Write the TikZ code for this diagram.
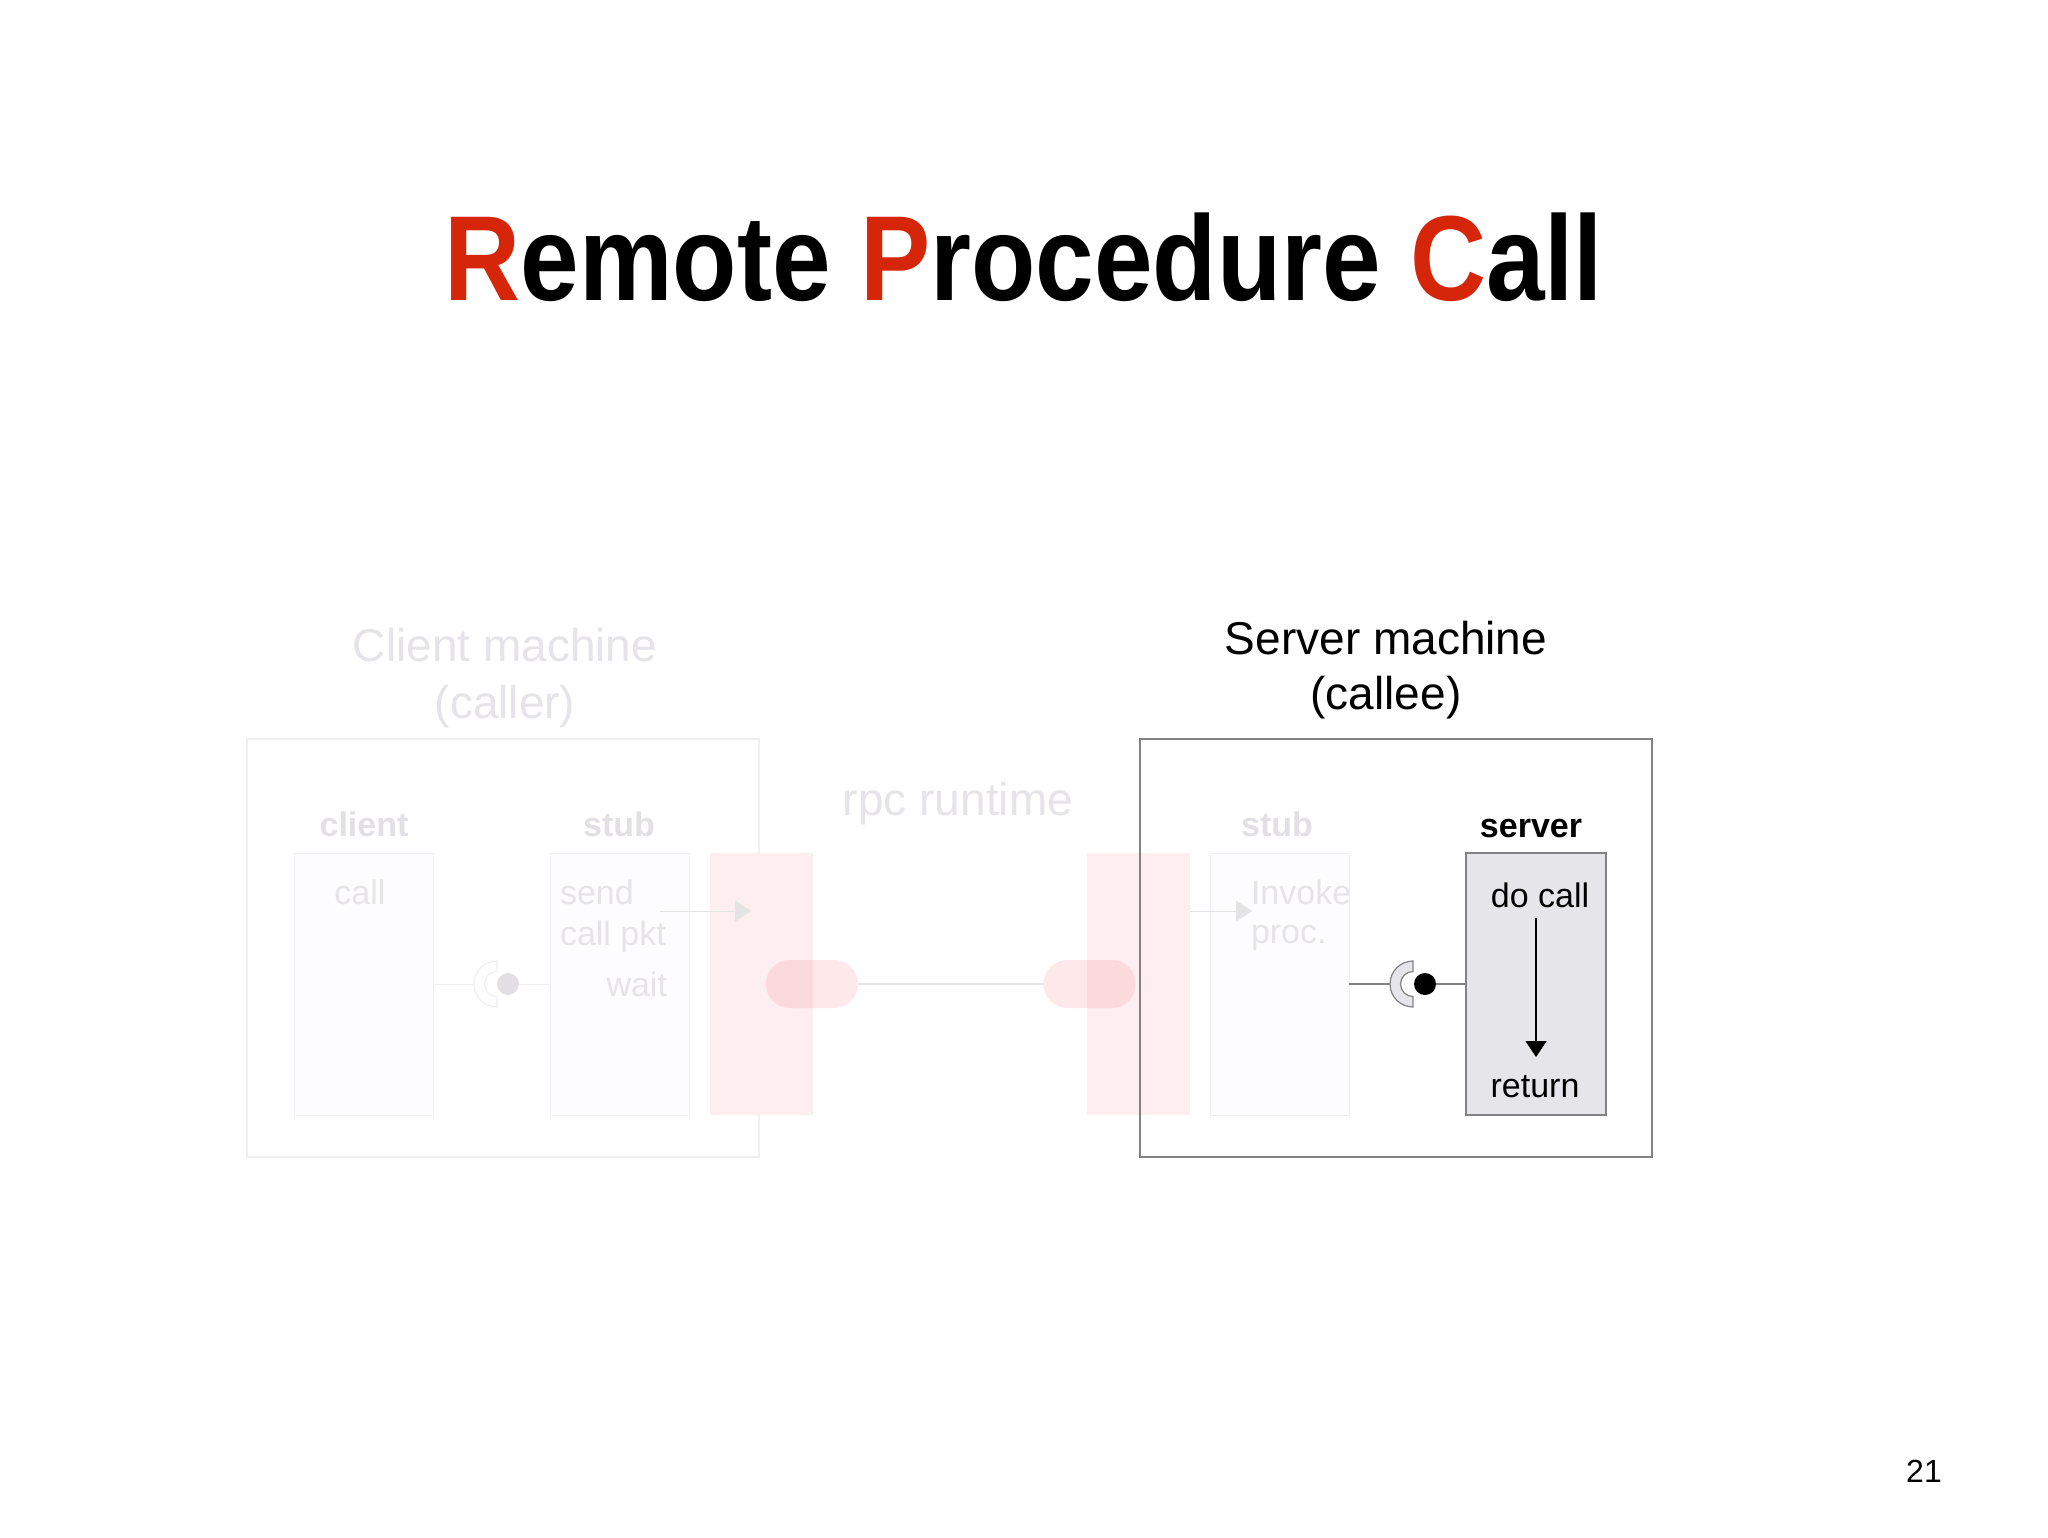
\documentclass[tikz,border=0pt]{standalone}
\usepackage{fontspec}
\setmainfont{Liberation Sans}
\newfontfamily\titlefont[FakeStretch=0.87]{Liberation Sans}
\usetikzlibrary{arrows.meta}
\definecolor{titlered}{RGB}{214,38,10}
\definecolor{fadetxt}{RGB}{230,228,233}
\definecolor{fadebold}{RGB}{226,224,229}
\definecolor{fadeline}{RGB}{241,239,243}
\definecolor{fadefill}{RGB}{253,252,254}
\definecolor{barpink}{RGB}{253,238,240}
\definecolor{pillpink}{RGB}{253,232,234}
\definecolor{pilldark}{RGB}{251,218,222}
\definecolor{boxgray}{RGB}{230,229,233}
\definecolor{edgegray}{RGB}{130,130,130}
\definecolor{fadearrow}{RGB}{228,228,228}
\definecolor{midline}{RGB}{228,228,232}
\begin{document}
\begin{tikzpicture}[x=0.5pt,y=-0.5pt,
  every node/.style={inner sep=0pt,outer sep=0pt},
  mbox/.style={anchor=north west,minimum width=256pt,minimum height=209pt},
  col/.style={anchor=north west,minimum width=69.5pt,minimum height=131pt},
  bar/.style={anchor=north west,minimum width=51.5pt,minimum height=131pt,fill=barpink},
  pill/.style={minimum width=46pt,minimum height=24pt,rounded corners=12pt,fill=pillpink},
  big/.style={anchor=base,font=\fontsize{23}{28}\selectfont},
  hdr/.style={anchor=base,font=\bfseries\fontsize{17}{20}\selectfont},
  item/.style={anchor=base,font=\fontsize{17}{20}\selectfont},
  dot/.style={circle,minimum size=11pt},
  fadetip/.style={-{Triangle[width=10.5pt,length=8pt]}}
]
\useasboundingbox (0,0) rectangle (2048,1537);
\fill[white] (0,0) rectangle (2048,1537);

% title
\node[anchor=base,font=\titlefont\bfseries\fontsize{60.5}{70}\selectfont] (title) at (1024,300)
  {\textcolor{titlered}{R}emote \textcolor{titlered}{P}rocedure \textcolor{titlered}{C}all};

% machine boxes
\node[mbox,draw=fadeline,line width=0.6pt] (cm) at (247,739) {};

% red bars
\node[bar] (rbar1) at (710,853) {};
\node[bar] (rbar2) at (1087,853) {};

% pills
\node[pill] (pl) at (812,984) {};
\node[pill] (pr) at (1089.5,984) {};
\begin{scope}
  \clip (rbar1.north west) rectangle (rbar1.south east);
  \fill[pilldark,rounded corners=12pt] (pl.north west) rectangle (pl.south east);
\end{scope}
\begin{scope}
  \clip (rbar2.north west) rectangle (rbar2.south east);
  \fill[pilldark,rounded corners=12pt] (pr.north west) rectangle (pr.south east);
\end{scope}
\draw[midline,line width=1.1pt] (pl.east) -- (pr.west);

% columns
\node[col,draw=fadeline,fill=fadefill,line width=0.5pt] (cbox) at (294,853) {};
\node[col,draw=fadeline,fill=fadefill,line width=0.5pt] (cstub) at (550,853) {};
\node[col,draw=fadeline,fill=fadefill,line width=0.5pt] (sstub) at (1210,853) {};
\node[anchor=north west,minimum width=70pt,minimum height=131pt,draw=edgegray,fill=boxgray,line width=0.6pt] (sbox) at (1466,853) {};

\node[mbox,draw=edgegray,line width=0.6pt] (sm) at (1140,739) {};

% machine labels
\node[big,text=fadetxt] (cml1) at (505,661) {Client machine};
\node[big,text=fadetxt] (cml2) at (505,718) {(caller)};
\node[big] (sml1) at (1386,654) {Server machine};
\node[big] (sml2) at (1386,709) {(callee)};
\node[big,text=fadetxt] (rpc) at (958,815) {rpc runtime};

% column headers
\node[hdr,text=fadebold] (hclient) at (364,836) {client};
\node[hdr,text=fadebold] (hcstub) at (619,836) {stub};
\node[hdr,text=fadebold] (hsstub) at (1277,836) {stub};
\node[hdr] (hserver) at (1531,837) {server};

% items
\node[item,text=fadetxt] (call) at (360,904) {call};
\node[item,text=fadetxt,anchor=base west] (send) at (560,904) {send};
\node[item,text=fadetxt,anchor=base west] (pkt) at (560,945) {call pkt};
\node[item,text=fadetxt,anchor=base east] (wait) at (667,996) {wait};
\node[item,text=fadetxt,anchor=base west] (inv) at (1251,904) {Invoke};
\node[item,text=fadetxt,anchor=base west] (proc) at (1251,943) {proc.};
\node[item] (docall) at (1540,907) {do call};
\node[item] (ret) at (1535,1097) {return};

% faded arrows
\coordinate (ca1) at (660,911);
\coordinate (ca2) at (751,911);
\draw[fadearrow,line width=0.5pt,fadetip] (ca1) -- (ca2);
\coordinate (sa1) at (1190,911);
\coordinate (sa2) at (1252,911);
\draw[fadearrow,line width=0.5pt,fadetip] (sa1) -- (sa2);

% do call -> return
\coordinate (da1) at (1536,918);
\coordinate (da2) at (1536,1057);
\draw[black,line width=0.6pt,-{Triangle[width=10.5pt,length=8pt]}] (da1) -- (da2);

% client socket
\coordinate (carc) at (474,984);
\draw[fadeline,fill=white,line width=0.6pt] (497,1007) arc[start angle=90,end angle=270,radius=23]
  -- (497,971.5) arc[start angle=270,end angle=90,radius=12.5] -- cycle;
\node[dot,fill=fadebold] (cdot) at (508,984) {};
\draw[fadeline,line width=0.5pt] (cbox.east) -- (carc);
\draw[fadeline,line width=0.5pt] (cdot.east) -- (cstub.west);

% server socket
\coordinate (sarc) at (1390,984);
\draw[edgegray,fill=boxgray,line width=0.6pt] (1413,1007) arc[start angle=90,end angle=270,radius=23]
  -- (1413,971.5) arc[start angle=270,end angle=90,radius=12.5] -- cycle;
\node[dot,fill=black] (sdot) at (1425,984) {};
\draw[edgegray,line width=0.6pt] (sstub.east) -- (sarc);
\draw[edgegray,line width=0.6pt] (sdot.east) -- (sbox.west);

% page number
\node[anchor=base,font=\fontsize{16}{19}\selectfont] (pg) at (1924,1482) {21};
\end{tikzpicture}
\end{document}
